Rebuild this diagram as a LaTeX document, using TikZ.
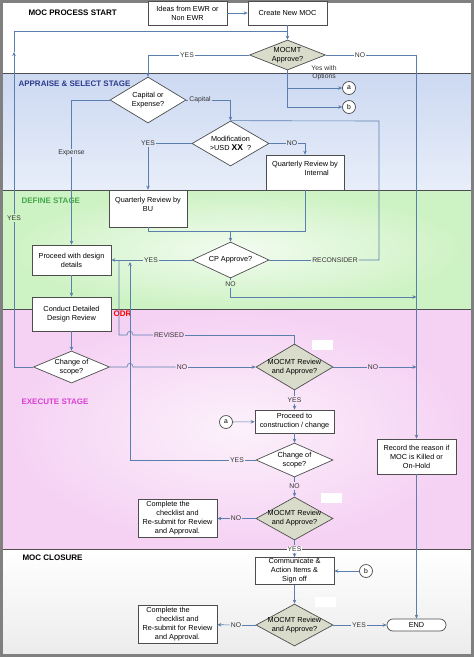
\documentclass[tikz,border=0pt]{standalone}
\usepackage{fontspec}
\setmainfont{Liberation Sans}
\usetikzlibrary{shapes, arrows.meta, positioning, calc, backgrounds}
\definecolor{flowline}{HTML}{5A7FAE}
\definecolor{edgegray}{HTML}{4D4D4D}
\definecolor{decgray}{HTML}{D9DCCB}
\definecolor{appraiseblue}{HTML}{CCD9F2}
\definecolor{appraisetxt}{HTML}{2E3A8C}
\definecolor{definegreen}{HTML}{CDF2C3}
\definecolor{definetxt}{HTML}{45A84C}
\definecolor{executepink}{HTML}{F5D1F3}
\definecolor{executetxt}{HTML}{D93FD3}
\newcommand{\procfont}{\fontsize{7.3}{9}\selectfont}
\newcommand{\lblfont}{\fontsize{6.8}{8.5}\selectfont}
\newcommand{\stagefont}{\fontsize{8}{9}\selectfont\bfseries}

\begin{document}
\begin{tikzpicture}[x=1pt, y=-1pt,
	proc/.style={draw=edgegray, fill=white, line width=0.7pt, align=center, font=\procfont, inner sep=1pt},
	dec/.style={diamond, draw=edgegray, fill=white, line width=0.7pt, align=center, font=\procfont, inner sep=-8pt},
	decg/.style={dec, fill=decgray},
	tagc/.style={circle, draw=edgegray, fill=white, line width=0.7pt, minimum size=13pt, inner sep=0pt, font=\lblfont},
	lbl/.style={font=\lblfont, text=black!80, inner sep=1pt},
	conn/.style={draw=flowline, line width=0.6pt},
	arr/.style={conn, -{Stealth[length=4pt,width=3.5pt]}},
	stagetitle/.style={anchor=west, font=\stagefont}]
			\useasboundingbox (0,0) rectangle (474,657);
			
			% Stages
			\fill[white] (3,2) rectangle (471,73);
			\shade[top color=appraiseblue, bottom color=appraiseblue!45] (3,73) rectangle (471,190);
			\shade[inner color=definegreen!25, outer color=definegreen] (3,190) rectangle (471,309);
			\shade[inner color=executepink!30, outer color=executepink] (3,309) rectangle (471,549);
			\shade[top color=white, bottom color=gray!15] (3,549) rectangle (471,655);
			\foreach \y in {73,190,309,549}
				\draw[edgegray, line width=0.8pt] (3,\y) -- (471,\y);
			\draw[gray, line width=3pt] (1.5,1.5) rectangle (472.5,655.5);
			% blanked tags
			\foreach \x/\y in {300/32, 312/340, 321/493, 315/597}
				\fill[white] (\x,\y) rectangle ++(21,10);
			
			\node[stagetitle] (tStart) at (25,13) {MOC PROCESS START};
			\node[stagetitle, text=appraisetxt] (tAppraise) at (15,84) {APPRAISE \& SELECT STAGE};
			\node[stagetitle, text=definetxt] (tDefine) at (18,201) {DEFINE STAGE};
			\node[stagetitle, text=executetxt] (tExecute) at (18,402) {EXECUTE STAGE};
			\node[stagetitle] (tClosure) at (19,558) {MOC CLOSURE};
			\node[stagetitle, text=red] (tOdr) at (110,314) {ODR};
			
			% Boxes and decisions
			\node[proc, minimum width=79pt, minimum height=24pt] (ideas) at (187.5,13) {Ideas from EWR or\\Non EWR};
			\node[proc, minimum width=79pt, minimum height=24pt] (create) at (287.5,13) {Create New MOC};
			\node[decg, minimum width=76pt, minimum height=30pt] (approve) at (287.5,55) {MOCMT\\Approve?};
			\node[tagc] (tagA1) at (349,88) {a};
			\node[tagc] (tagB1) at (349,107) {b};
			\node[dec, minimum width=76pt, minimum height=46pt] (capexp) at (148,100) {Capital or\\Expense?};
			\node[dec, minimum width=77pt, minimum height=45pt] (modif) at (230.5,143.5) {Modification\\>USD {\bfseries\fontsize{8.5}{9}\selectfont XX}\ \ ?};
			\node[proc, minimum width=78pt, minimum height=35pt] (qrInt) at (305,172.5) {Quarterly Review by\\\hspace*{3.2em}Internal\\~};
			\node[proc, minimum width=78pt, minimum height=37pt] (qrBU) at (148,208.5) {Quarterly Review by\\BU\\~};
			\node[proc, minimum width=79pt, minimum height=30pt] (proceed) at (71.5,260) {Proceed with design\\details};
			\node[dec, minimum width=77pt, minimum height=36pt] (cpAppr) at (230.5,260) {CP Approve?};
			\node[proc, minimum width=79pt, minimum height=34pt] (conduct) at (71.5,314) {Conduct Detailed\\Design Review};
			\node[dec, minimum width=76pt, minimum height=32pt] (scope1) at (71.5,367) {Change of\\scope?};
			\node[decg, minimum width=77pt, minimum height=46pt] (revA) at (294.5,367) {MOCMT Review\\and Approve?};
			\node[proc, minimum width=79pt, minimum height=23pt] (construct) at (294.5,421.5) {Proceed to\\construction / change};
			\node[tagc] (tagA2) at (226,422) {a};
			\node[dec, minimum width=77pt, minimum height=34pt] (scope2) at (294.5,460) {Change of\\scope?};
			\node[proc, minimum width=79pt, minimum height=35pt] (record) at (416.5,456.5) {Record the reason if\\MOC is Killed or\\On-Hold};
			\node[decg, minimum width=77pt, minimum height=43pt] (revB) at (294.5,518.5) {MOCMT Review\\and Approve?};
			\node[proc, minimum width=79pt, minimum height=38pt] (redoA) at (177.5,518.5) {Complete the\hspace*{2.6em}\\checklist and\\Re-submit for Review\\and Approval.};
			\node[proc, minimum width=79pt, minimum height=26pt] (communicate) at (294.5,571) {Communicate \&\\Action Items \&\\Sign off};
			\node[tagc] (tagB2) at (366,571) {b};
			\node[decg, minimum width=77pt, minimum height=42pt] (revC) at (294.5,625) {MOCMT Review\\and Approve?};
			\node[proc, minimum width=79pt, minimum height=38pt] (redoB) at (177.5,624) {Complete the\hspace*{2.6em}\\checklist and\\Re-submit for Review\\and Approval.};
			\node[proc, rounded corners=6pt, minimum width=59pt, minimum height=12pt] (endNode) at (416.5,625) {END};
			
			% Line labels
			\node[lbl] (lYesA) at (187,55) {YES};
			\node[lbl] (lNoA) at (360,55) {NO};
			\node[lbl, align=center] (lOpt) at (324,72.5) {Yes with\\Options};
			\node[lbl] (lCap) at (200,100) {Capital};
			\node[lbl] (lExp) at (71.5,153) {Expense};
			\node[lbl] (lYesB) at (148,143.5) {YES};
			\node[lbl] (lNoB) at (292,143.5) {NO};
			\node[lbl] (lYesC) at (14,218) {YES};
			\node[lbl] (lYesD) at (151,260) {YES};
			\node[lbl] (lRecon) at (335,260) {RECONSIDER};
			\node[lbl] (lNoC) at (230.5,284) {NO};
			\node[lbl] (lRev) at (169,335) {REVISED};
			\node[lbl] (lNoD) at (182,367) {NO};
			\node[lbl] (lNoE) at (373,367) {NO};
			\node[lbl] (lYesE) at (294.5,400) {YES};
			\node[lbl] (lYesF) at (237,460) {YES};
			\node[lbl] (lNoF) at (294.5,486) {NO};
			\node[lbl] (lNoG) at (236,518.5) {NO};
			\node[lbl, fill=white] (lYesG) at (294.5,549) {YES};
			\node[lbl] (lNoH) at (236,625) {NO};
			\node[lbl] (lYesH) at (359,625) {YES};
			
			\coordinate (loopTip) at (14,52);
			\coordinate (loopTurn) at (14,31);
			\coordinate (merge) at (230.5,231);
			\coordinate (reconTurn) at (379,121);
			\coordinate (revTurn) at (119,335);
			\coordinate (revJoin) at (119,260);
			\coordinate (scopeJoin) at (130,262);
			\coordinate (killA) at (416.5,297);
			\coordinate (killB) at (416.5,367);
			
			% Start
			\draw[arr] (ideas) -- (create);
			\draw[arr] (create) -- (approve);
			\draw[conn] (approve.west) -- (lYesA);
			\draw[arr] (lYesA) -| (capexp.north);
			\draw[conn] (approve.east) -- (lNoA);
			\draw[arr] (lNoA) -| (record.north);
			\draw[arr] (approve.south) |- (tagA1);
			\draw[arr] (approve.south) |- (tagB1);
			
			% Appraise
			\draw[conn] (capexp.west) -| (lExp);
			\draw[arr] (lExp) -- (proceed);
			\draw[conn] (capexp.east) -- (lCap);
			\draw[arr] (lCap) -| (modif.north);
			\draw[conn] (modif.west) -- (lYesB);
			\draw[arr] (lYesB) -- (qrBU);
			\draw[conn] (modif.east) -- (lNoB);
			\draw[arr] (lNoB) -| (qrInt.north);
			
			% Define
			\draw[conn] (qrBU.south) |- (merge);
			\draw[conn] (qrInt.south) |- (merge);
			\draw[arr] (merge) -- (cpAppr.north);
			\draw[conn] (cpAppr.west) -- (lYesD);
			\draw[arr] (lYesD) -- (proceed.east);
			\draw[conn] (cpAppr.east) -- (lRecon);
			\draw[conn] (lRecon) -| (reconTurn) -- (modif.north);
			\draw[conn] (cpAppr.south) -- (lNoC);
			\draw[arr] (lNoC) |- (killA);
			\draw[arr] (proceed) -- (conduct);
			\draw[arr] (conduct) -- (scope1);
			
			% Execute
			\draw[conn] (scope1.west) -| (lYesC);
			\draw[arr] (lYesC) -- (loopTip);
			\draw[conn] (loopTip) -- (loopTurn) -- (loopTurn -| create.south);
			\draw[conn] (scope1.east) -- (127,367) .. controls (127,362) and (133,362) .. (133,367) -- (lNoD);
			\draw[arr] (lNoD) -- (revA.west);
			\draw[conn] (revA.north) |- (lRev);
			\draw[conn] (lRev) -- (133,335) .. controls (133,330) and (127,330) .. (127,335) -- (revTurn) -- (revJoin);
			\draw[conn] (revA.east) -- (lNoE);
			\draw[arr] (lNoE) -- (killB);
			\draw[conn] (revA.south) -- (lYesE);
			\draw[arr] (lYesE) -- (construct);
			\draw[arr] (tagA2) -- (construct);
			\draw[arr] (construct) -- (scope2);
			\draw[conn] (scope2.west) -- (lYesF);
			\draw[arr] (lYesF) -| (scopeJoin);
			\draw[conn] (scope2.south) -- (lNoF);
			\draw[arr] (lNoF) -- (revB);
			\draw[conn] (revB.west) -- (lNoG);
			\draw[arr] (lNoG) -- (redoA);
			\draw[arr] (record) -- (endNode);
			
			% Closure
			\draw[conn] (revB.south) -- (lYesG);
			\draw[arr] (lYesG) -- (communicate);
			\draw[arr] (tagB2) -- (communicate);
			\draw[arr] (communicate) -- (revC);
			\draw[conn] (revC.west) -- (lNoH);
			\draw[arr] (lNoH) -- (redoB);
			\draw[conn] (revC.east) -- (lYesH);
			\draw[arr] (lYesH) -- (endNode);
		\end{tikzpicture}
\end{document}
